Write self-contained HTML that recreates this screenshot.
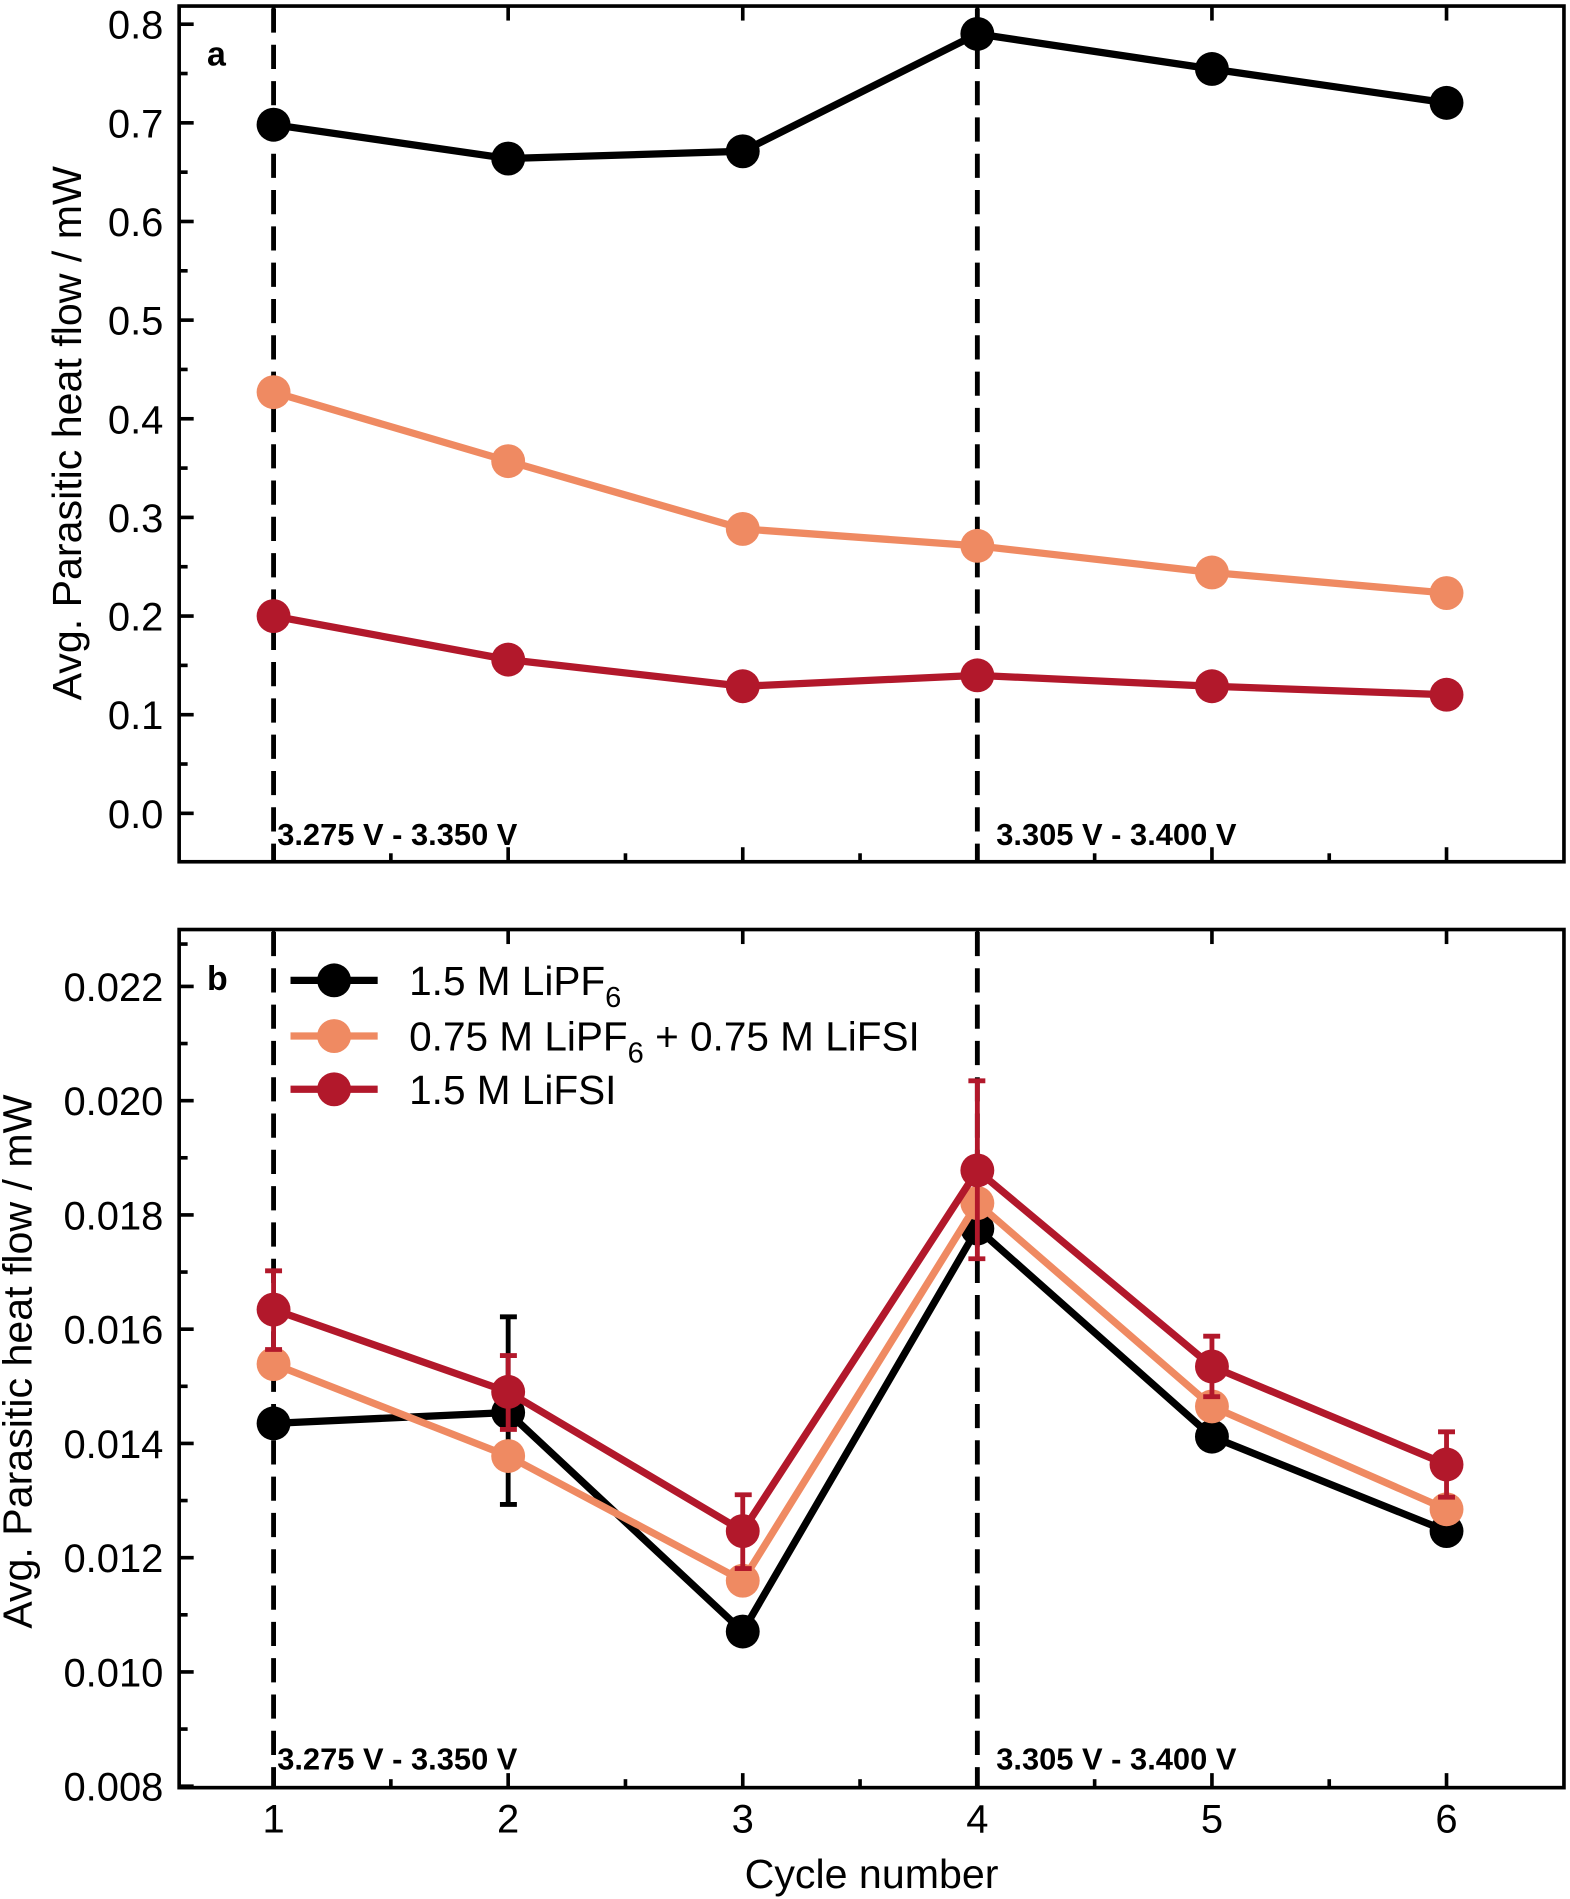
<!DOCTYPE html>
<html><head><meta charset="utf-8"><style>
html,body{margin:0;padding:0;background:#fff;}
svg{display:block;}
text{font-family:"Liberation Sans",Arial,sans-serif;}
</style></head><body>
<svg width="1570" height="1899" viewBox="0 0 1297 1569" preserveAspectRatio="none" xmlns="http://www.w3.org/2000/svg">
<rect width="1297" height="1569" fill="#fff"/>
<!-- Panel a -->
<rect x="148" y="5" width="1144" height="707" fill="none" stroke="#000" stroke-width="3"/>
<g stroke="#000" stroke-width="3">
<line x1="148" x2="160" y1="20" y2="20"/><line x1="148" x2="160" y1="101.5" y2="101.5"/><line x1="148" x2="160" y1="183" y2="183"/><line x1="148" x2="160" y1="264.5" y2="264.5"/><line x1="148" x2="160" y1="346" y2="346"/><line x1="148" x2="160" y1="427.5" y2="427.5"/><line x1="148" x2="160" y1="509" y2="509"/><line x1="148" x2="160" y1="590.5" y2="590.5"/><line x1="148" x2="160" y1="672" y2="672"/>
<line x1="148" x2="155" y1="60.75" y2="60.75"/><line x1="148" x2="155" y1="142.25" y2="142.25"/><line x1="148" x2="155" y1="223.75" y2="223.75"/><line x1="148" x2="155" y1="305.25" y2="305.25"/><line x1="148" x2="155" y1="386.75" y2="386.75"/><line x1="148" x2="155" y1="468.25" y2="468.25"/><line x1="148" x2="155" y1="549.75" y2="549.75"/><line x1="148" x2="155" y1="631.25" y2="631.25"/>
<line x1="226" x2="226" y1="712" y2="700"/><line x1="419.8" x2="419.8" y1="712" y2="700"/><line x1="613.6" x2="613.6" y1="712" y2="700"/><line x1="807.4" x2="807.4" y1="712" y2="700"/><line x1="1001.2" x2="1001.2" y1="712" y2="700"/><line x1="1195" x2="1195" y1="712" y2="700"/>
<line x1="322.9" x2="322.9" y1="712" y2="705"/><line x1="516.7" x2="516.7" y1="712" y2="705"/><line x1="710.5" x2="710.5" y1="712" y2="705"/><line x1="904.3" x2="904.3" y1="712" y2="705"/><line x1="1098.1" x2="1098.1" y1="712" y2="705"/>
<line x1="226" x2="226" y1="5" y2="17"/><line x1="419.8" x2="419.8" y1="5" y2="17"/><line x1="613.6" x2="613.6" y1="5" y2="17"/><line x1="807.4" x2="807.4" y1="5" y2="17"/><line x1="1001.2" x2="1001.2" y1="5" y2="17"/><line x1="1195" x2="1195" y1="5" y2="17"/>
</g>
<g font-size="33" text-anchor="end" fill="#000">
<text x="135" y="32">0.8</text><text x="135" y="113.5">0.7</text><text x="135" y="195">0.6</text><text x="135" y="276.5">0.5</text><text x="135" y="358">0.4</text><text x="135" y="439.5">0.3</text><text x="135" y="521">0.2</text><text x="135" y="602.5">0.1</text><text x="135" y="684">0.0</text>
</g>
<text x="67" y="358" font-size="34" text-anchor="middle" transform="rotate(-90 67 358)">Avg. Parasitic heat flow / mW</text>
<text x="171" y="54" font-size="28" font-weight="bold">a</text>
<g stroke="#000" stroke-width="4" stroke-dasharray="20,10">
<line x1="226" x2="226" y1="7" y2="712"/><line x1="807.4" x2="807.4" y1="7" y2="712"/>
</g>
<g font-size="25.5" font-weight="bold"><text x="229" y="698">3.275 V - 3.350 V</text><text x="823" y="698">3.305 V - 3.400 V</text></g>
<g fill="none" stroke-width="6" stroke-linejoin="round">
<polyline stroke="#000" points="226,103 419.8,131 613.6,125 807.4,28 1001.2,57 1195,85"/>
<polyline stroke="#ef8a62" points="226,324 419.8,381 613.6,437 807.4,451 1001.2,473 1195,490"/>
<polyline stroke="#b2182b" points="226,509 419.8,545 613.6,567 807.4,558 1001.2,567 1195,574"/>
</g>
<g fill="#000"><circle cx="226" cy="103" r="14"/><circle cx="419.8" cy="131" r="14"/><circle cx="613.6" cy="125" r="14"/><circle cx="807.4" cy="28" r="14"/><circle cx="1001.2" cy="57" r="14"/><circle cx="1195" cy="85" r="14"/></g>
<g fill="#ef8a62"><circle cx="226" cy="324" r="14"/><circle cx="419.8" cy="381" r="14"/><circle cx="613.6" cy="437" r="14"/><circle cx="807.4" cy="451" r="14"/><circle cx="1001.2" cy="473" r="14"/><circle cx="1195" cy="490" r="14"/></g>
<g fill="#b2182b"><circle cx="226" cy="509" r="14"/><circle cx="419.8" cy="545" r="14"/><circle cx="613.6" cy="567" r="14"/><circle cx="807.4" cy="558" r="14"/><circle cx="1001.2" cy="567" r="14"/><circle cx="1195" cy="574" r="14"/></g>

<!-- Panel b -->
<rect x="148" y="768" width="1144" height="709" fill="none" stroke="#000" stroke-width="3"/>
<g stroke="#000" stroke-width="3">
<line x1="148" x2="160" y1="815" y2="815"/><line x1="148" x2="160" y1="909.4" y2="909.4"/><line x1="148" x2="160" y1="1003.8" y2="1003.8"/><line x1="148" x2="160" y1="1098.2" y2="1098.2"/><line x1="148" x2="160" y1="1192.6" y2="1192.6"/><line x1="148" x2="160" y1="1287" y2="1287"/><line x1="148" x2="160" y1="1381.4" y2="1381.4"/><line x1="148" x2="160" y1="1475.8" y2="1475.8"/>
<line x1="148" x2="155" y1="862.2" y2="862.2"/><line x1="148" x2="155" y1="956.6" y2="956.6"/><line x1="148" x2="155" y1="1051" y2="1051"/><line x1="148" x2="155" y1="1145.4" y2="1145.4"/><line x1="148" x2="155" y1="1239.8" y2="1239.8"/><line x1="148" x2="155" y1="1334.2" y2="1334.2"/><line x1="148" x2="155" y1="1428.6" y2="1428.6"/>
<line x1="148" x2="155" y1="780" y2="780"/>
<line x1="226" x2="226" y1="1477" y2="1465"/><line x1="419.8" x2="419.8" y1="1477" y2="1465"/><line x1="613.6" x2="613.6" y1="1477" y2="1465"/><line x1="807.4" x2="807.4" y1="1477" y2="1465"/><line x1="1001.2" x2="1001.2" y1="1477" y2="1465"/><line x1="1195" x2="1195" y1="1477" y2="1465"/>
<line x1="322.9" x2="322.9" y1="1477" y2="1470"/><line x1="516.7" x2="516.7" y1="1477" y2="1470"/><line x1="710.5" x2="710.5" y1="1477" y2="1470"/><line x1="904.3" x2="904.3" y1="1477" y2="1470"/><line x1="1098.1" x2="1098.1" y1="1477" y2="1470"/>
<line x1="226" x2="226" y1="768" y2="780"/><line x1="419.8" x2="419.8" y1="768" y2="780"/><line x1="613.6" x2="613.6" y1="768" y2="780"/><line x1="807.4" x2="807.4" y1="768" y2="780"/><line x1="1001.2" x2="1001.2" y1="768" y2="780"/><line x1="1195" x2="1195" y1="768" y2="780"/>
</g>
<g font-size="33" text-anchor="end" fill="#000">
<text x="135" y="827">0.022</text><text x="135" y="921.4">0.020</text><text x="135" y="1015.8">0.018</text><text x="135" y="1110.2">0.016</text><text x="135" y="1204.6">0.014</text><text x="135" y="1299">0.012</text><text x="135" y="1393.4">0.010</text><text x="135" y="1487.8">0.008</text>
</g>
<g font-size="33" text-anchor="middle">
<text x="226" y="1514">1</text><text x="419.8" y="1514">2</text><text x="613.6" y="1514">3</text><text x="807.4" y="1514">4</text><text x="1001.2" y="1514">5</text><text x="1195" y="1514">6</text>
</g>
<text x="720" y="1560" font-size="34" text-anchor="middle">Cycle number</text>
<text x="26" y="1125" font-size="34" text-anchor="middle" transform="rotate(-90 26 1125)">Avg. Parasitic heat flow / mW</text>
<text x="171" y="818" font-size="28" font-weight="bold">b</text>
<g stroke="#000" stroke-width="4" stroke-dasharray="20,10">
<line x1="226" x2="226" y1="770" y2="1477"/><line x1="807.4" x2="807.4" y1="770" y2="1477"/>
</g>
<g font-size="25.5" font-weight="bold"><text x="229" y="1462">3.275 V - 3.350 V</text><text x="823" y="1462">3.305 V - 3.400 V</text></g>
<g stroke="#000" stroke-width="4"><line x1="419.8" x2="419.8" y1="1088" y2="1243"/><line x1="413" x2="427" y1="1088" y2="1088"/><line x1="413" x2="427" y1="1243" y2="1243"/></g>
<polyline fill="none" stroke="#000" stroke-width="6" stroke-linejoin="round" points="226,1176 419.8,1167 613.6,1348 807.4,1015 1001.2,1187 1195,1265"/>
<g fill="#000"><circle cx="226" cy="1176" r="14"/><circle cx="419.8" cy="1167" r="14"/><circle cx="613.6" cy="1348" r="14"/><circle cx="807.4" cy="1015" r="14"/><circle cx="1001.2" cy="1187" r="14"/><circle cx="1195" cy="1265" r="14"/></g>
<polyline fill="none" stroke="#ef8a62" stroke-width="6" stroke-linejoin="round" points="226,1127 419.8,1203 613.6,1306 807.4,994 1001.2,1162 1195,1247"/>
<g fill="#ef8a62"><circle cx="226" cy="1127" r="14"/><circle cx="419.8" cy="1203" r="14"/><circle cx="613.6" cy="1306" r="14"/><circle cx="807.4" cy="994" r="14"/><circle cx="1001.2" cy="1162" r="14"/><circle cx="1195" cy="1247" r="14"/></g>
<g stroke="#b2182b" stroke-width="4">
<line x1="226" x2="226" y1="1050" y2="1115"/><line x1="219" x2="233" y1="1050" y2="1050"/><line x1="219" x2="233" y1="1115" y2="1115"/>
<line x1="419.8" x2="419.8" y1="1120" y2="1181"/><line x1="413" x2="427" y1="1120" y2="1120"/><line x1="413" x2="427" y1="1181" y2="1181"/>
<line x1="613.6" x2="613.6" y1="1235" y2="1296"/><line x1="607" x2="621" y1="1235" y2="1235"/><line x1="607" x2="621" y1="1296" y2="1296"/>
<line x1="807.4" x2="807.4" y1="893" y2="1040"/><line x1="800" x2="814" y1="893" y2="893"/><line x1="800" x2="814" y1="1040" y2="1040"/>
<line x1="1001.2" x2="1001.2" y1="1104" y2="1154"/><line x1="994" x2="1008" y1="1104" y2="1104"/><line x1="994" x2="1008" y1="1154" y2="1154"/>
<line x1="1195" x2="1195" y1="1183" y2="1237"/><line x1="1188" x2="1202" y1="1183" y2="1183"/><line x1="1188" x2="1202" y1="1237" y2="1237"/>
</g>
<polyline fill="none" stroke="#b2182b" stroke-width="6" stroke-linejoin="round" points="226,1082 419.8,1150 613.6,1265 807.4,967 1001.2,1129 1195,1210"/>
<g fill="#b2182b"><circle cx="226" cy="1082" r="14"/><circle cx="419.8" cy="1150" r="14"/><circle cx="613.6" cy="1265" r="14"/><circle cx="807.4" cy="967" r="14"/><circle cx="1001.2" cy="1129" r="14"/><circle cx="1195" cy="1210" r="14"/></g>
<line x1="240" x2="312" y1="810" y2="810" stroke="#000" stroke-width="6"/>
<line x1="240" x2="312" y1="856" y2="856" stroke="#ef8a62" stroke-width="6"/>
<line x1="240" x2="312" y1="900" y2="900" stroke="#b2182b" stroke-width="6"/>
<circle cx="276" cy="810" r="14" fill="#000"/><circle cx="276" cy="856" r="14" fill="#ef8a62"/><circle cx="276" cy="900" r="14" fill="#b2182b"/>
<g font-size="33.5">
<text x="338" y="822">1.5 M LiPF<tspan font-size="24" dy="10">6</tspan></text>
<text x="338" y="868">0.75 M LiPF<tspan font-size="24" dy="10">6</tspan><tspan dy="-10"> + 0.75 M LiFSI</tspan></text>
<text x="338" y="912">1.5 M LiFSI</text>
</g>
</svg>
</body></html>
